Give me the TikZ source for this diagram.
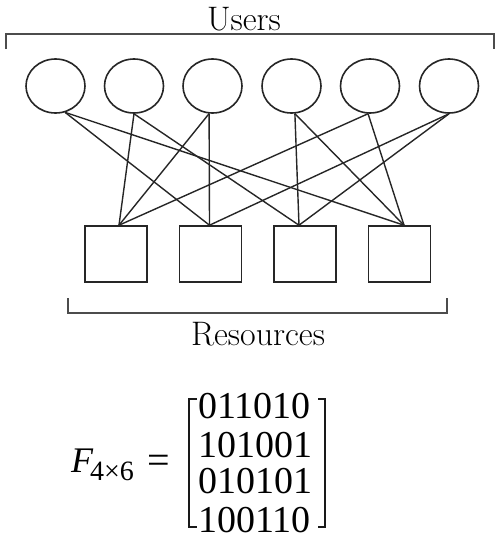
\documentclass[tikz,border=0pt]{standalone}
\usepackage{fontspec}
\newfontfamily\mfont{Liberation Serif}
\usetikzlibrary{shapes.geometric,calc}
\begin{document}
\begin{tikzpicture}[x=1pt,y=-1pt,
 user/.style={draw=black!85, line width=1.6pt, ellipse, minimum width=59pt, minimum height=54pt, inner sep=0pt},
 res/.style={draw=black!85, line width=1.6pt, rectangle, minimum width=62pt, minimum height=56pt, inner sep=0pt},
 link/.style={draw=black!85, line width=1.4pt},
 bracketline/.style={draw=black!70, line width=1.8pt},
 mbracket/.style={draw=black!90, line width=2.6pt},
 lbl/.style={font=\fontsize{34}{40}\selectfont, inner sep=0pt, anchor=base},
 mrow/.style={font=\mfont\fontsize{38}{40}\selectfont, inner sep=0pt, anchor=base west},
 mtxt/.style={inner sep=0pt, anchor=base west}]
\useasboundingbox (0,0) rectangle (500,539);

% Users bracket and label
\draw[bracketline] (6,49) -- (6,34) -- (494,34) -- (494,49);
\node[lbl] (users) at (244,30) {Users};

% users
\node[user] (u1) at (55.5,86) {};
\node[user] (u2) at (134,86) {};
\node[user] (u3) at (212.5,86) {};
\node[user] (u4) at (291.5,86) {};
\node[user] (u5) at (370,86) {};
\node[user] (u6) at (449,86) {};

% resources
\node[res] (s1) at (116,254) {};
\node[res] (s2) at (210.5,254) {};
\node[res] (s3) at (305,254) {};
\node[res] (s4) at (399.5,254) {};

\coordinate (t1) at ($(s1.north)+(3,0)$);
\coordinate (t2) at ($(s2.north)+(-1,0)$);
\coordinate (t3) at ($(s3.north)+(-6,0)$);
\coordinate (t4) at ($(s4.north)+(4.5,0)$);

% links
\draw[link] (u1.290) -- (t2);
\draw[link] (u1.290) -- (t4);
\draw[link] (u2.south) -- (t1);
\draw[link] (u2.south) -- (t3);
\draw[link] (u3.263) -- (t1);
\draw[link] (u3.263) -- (t2);
\draw[link] (u4.277) -- (t3);
\draw[link] (u4.277) -- (t4);
\draw[link] (u5.266) -- (t1);
\draw[link] (u5.266) -- (t4);
\draw[link] (u6.south) -- (t2);
\draw[link] (u6.south) -- (t3);

% Resources bracket and label
\draw[bracketline] (68,298) -- (68,313) -- (447,313) -- (447,298);
\node[lbl] (resources) at (258,345) {Resources};

% matrix
\node[mtxt, font=\mfont\itshape\fontsize{36}{40}\selectfont] (F) at (71,472) {F};
\node[mtxt, font=\mfont\fontsize{28}{30}\selectfont] (sub) at (90,480) {4×6};
\node[mtxt, font=\mfont\fontsize{40}{42}\selectfont] (eq) at (147,473) {=};
\draw[mbracket] (197,399) -- (189,399) -- (189,527) -- (197,527);
\draw[mbracket] (318,399) -- (325,399) -- (325,527) -- (318,527);
\node[mrow] (r1) at (198,418) {011010};
\node[mrow] (r2) at (198,457) {101001};
\node[mrow] (r3) at (198,493) {010101};
\node[mrow] (r4) at (198,532) {100110};
\end{tikzpicture}
\end{document}
